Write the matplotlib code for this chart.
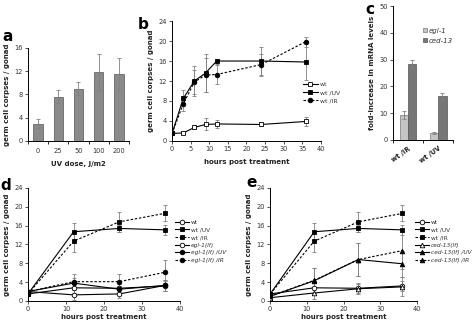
import matplotlib
matplotlib.use("Agg")
from matplotlib import pyplot as plt
from matplotlib.ticker import FixedLocator
import numpy as np

plt.rcParams['font.family'] = ['DejaVu Sans']
plt.rcParams['font.size'] = 5
plt.rcParams['axes.linewidth'] = 0.7

# panel a: germ cell corpses vs UV dose
dose_labels = ['0', '25', '50', '100', '200']
dose_corpses = [3.0, 7.6, 9.0, 11.8, 11.5]
dose_err = [0.7, 1.1, 1.1, 3.2, 2.8]

# panel b: time course after UV / IR
b_hours = [0, 3, 6, 9, 12, 24, 36]
b_wt = [1.5, 1.6, 2.7, 3.3, 3.4, 3.3, 3.9]
b_wt_err = [0.3, 0.3, 0.4, 1.2, 0.8, 0.4, 0.9]
b_wt_uv = [1.5, 8.5, 12.0, 13.6, 16.0, 16.0, 15.8]
b_wt_uv_err = [0.3, 1.6, 3.0, 3.9, 0.5, 2.8, 3.6]
b_wt_ir = [1.5, 7.4, 11.8, 13.2, 13.3, 15.3, 19.9]
b_wt_ir_err = [0.3, 1.5, 2.5, 3.5, 2.0, 2.2, 1.0]

# panel c: qRT-PCR fold increase
c_conditions = ['wt /IR', 'wt /UV']
c_egl1 = [9.3, 2.5]
c_egl1_err = [1.6, 0.3]
c_ced13 = [28.5, 16.3]
c_ced13_err = [1.5, 1.2]

# panels d, e: mutants
de_hours = [0, 12, 24, 36]
wt = [1.5, 2.8, 2.7, 3.2]
wt_err = [0.3, 1.2, 1.0, 1.0]
wt_uv = [1.5, 14.7, 15.4, 15.1]
wt_uv_err = [0.3, 1.8, 0.8, 1.0]
wt_ir = [1.5, 12.7, 16.8, 18.6]
wt_ir_err = [0.3, 2.2, 2.1, 1.7]
egl1 = [2.0, 1.3, 1.5, 3.3]
egl1_err = [0.3, 1.0, 0.8, 1.2]
egl1_uv = [2.0, 3.8, 2.5, 3.3]
egl1_uv_err = [0.3, 1.0, 0.6, 1.2]
egl1_ir = [2.0, 4.1, 4.1, 6.1]
egl1_ir_err = [0.3, 1.6, 1.7, 2.5]
ced13 = [0.7, 1.7, 2.6, 3.0]
ced13_err = [0.3, 1.2, 1.2, 2.0]
ced13_uv = [1.0, 4.3, 8.8, 7.9]
ced13_uv_err = [0.3, 2.6, 3.5, 2.8]
ced13_ir = [1.0, 4.4, 8.8, 10.7]
ced13_ir_err = [0.3, 2.6, 3.5, 4.0]

DOT = (0, (2.2, 1.6))
ERR = dict(ecolor='#808080', elinewidth=0.6, capsize=1.4, capthick=0.6)
LABEL = dict(fontsize=5, fontweight='bold', color='#222222')
LETTER = dict(fontsize=11, fontweight='bold')


def style(ax):
    for s in ('top', 'right'):
        ax.spines[s].set_visible(False)
    ax.tick_params(direction='out', length=2.2, width=0.6, pad=1.5,
                   labelsize=4.8, colors='#333333')


def series(ax, x, y, err, marker, filled, ls, label, ms=3.3):
    ax.errorbar(x, y, yerr=err, fmt='none', zorder=2, **ERR)
    ax.plot(x, y, color='black', lw=0.8, ls=ls, marker=marker, ms=ms,
            mfc='black' if filled else 'white', mec='black', mew=0.6,
            label=label, zorder=3)


def time_axes(ax, xstep):
    style(ax)
    ax.set_xlim(0, 40)
    ax.set_ylim(0, 24)
    ax.set_xticks(np.arange(0, 41, xstep))
    ax.set_yticks(np.arange(0, 25, 4))
    ax.set_ylabel('germ cell corpses / gonad', labelpad=3, **LABEL)


def small_legend(ax, anchor, italic_from=None, fontsize=4.2):
    leg = ax.legend(loc='upper left', bbox_to_anchor=anchor, frameon=False,
                    fontsize=fontsize, handlelength=2.4, handletextpad=0.3,
                    labelspacing=0.45, borderaxespad=0, borderpad=0)
    if italic_from is not None:
        for t in leg.get_texts()[italic_from:]:
            t.set_fontstyle('italic')
    for t in leg.get_texts():
        t.set_color('#333333')
    return leg


fig = plt.figure(figsize=(4.74, 3.24), dpi=100)

# ---- a
ax = fig.add_axes([0.059, 0.565, 0.213, 0.287])
style(ax)
xpos = np.arange(len(dose_labels))
ax.bar(xpos, dose_corpses, width=0.47, color='#8a8a8a', edgecolor='#555555', lw=0.5)
ax.errorbar(xpos, dose_corpses, yerr=dose_err, fmt='none', **ERR)
ax.set_xlim(-0.5, len(dose_labels) - 0.5)
ax.set_ylim(0, 16)
ax.set_yticks(np.arange(0, 17, 4))
ax.set_xticks(xpos)
ax.set_xticklabels(dose_labels)
ax.tick_params(axis='x', length=0, pad=5)
ax.xaxis.set_minor_locator(FixedLocator(np.arange(-0.5, len(dose_labels), 1)))
ax.tick_params(axis='x', which='minor', length=2.2, width=0.6, direction='out')
ax.set_ylabel('germ cell corpses / gonad', labelpad=3, **LABEL)
ax.set_xlabel('UV dose, J/m2', labelpad=5, **LABEL)
fig.text(0.004, 0.872, 'a', **LETTER)

# ---- b
ax = fig.add_axes([0.363, 0.565, 0.314, 0.37])
time_axes(ax, 5)
ax.set_xlabel('hours post treatment', labelpad=5, **LABEL)
series(ax, b_hours, b_wt, b_wt_err, 's', False, '-', 'wt')
series(ax, b_hours, b_wt_uv, b_wt_uv_err, 's', True, '-', 'wt /UV')
series(ax, b_hours, b_wt_ir, b_wt_ir_err, 'o', True, DOT, 'wt /IR')
small_legend(ax, (0.88, 0.49), fontsize=4.4)
fig.text(0.291, 0.912, 'b', **LETTER)

# ---- c
ax = fig.add_axes([0.829, 0.568, 0.127, 0.413])
style(ax)
cpos = np.arange(len(c_conditions)) + 0.5
bw = 0.28
ax.bar(cpos - bw / 2, c_egl1, width=bw, color='#c4c4c4', edgecolor='#777777', lw=0.5, label='egl-1')
ax.bar(cpos + bw / 2, c_ced13, width=bw, color='#777777', edgecolor='#555555', lw=0.5, label='ced-13')
ax.errorbar(cpos - bw / 2, c_egl1, yerr=c_egl1_err, fmt='none', **ERR)
ax.errorbar(cpos + bw / 2, c_ced13, yerr=c_ced13_err, fmt='none', **ERR)
ax.set_xlim(0, len(c_conditions))
ax.set_ylim(0, 50)
ax.set_yticks(np.arange(0, 51, 10))
ax.set_xticks(cpos)
ax.set_xticklabels(c_conditions, rotation=35, ha='right', fontweight='bold',
                   rotation_mode='anchor', color='#222222')
ax.tick_params(axis='x', length=0, pad=4)
ax.xaxis.set_minor_locator(FixedLocator(np.arange(0, len(c_conditions) + 1)))
ax.tick_params(axis='x', which='minor', length=2.2, width=0.6, direction='out')
ax.set_ylabel('fold-increase in mRNA levels', labelpad=3, **LABEL)
leg = ax.legend(loc='upper left', bbox_to_anchor=(0.5, 0.84), frameon=False, fontsize=5,
                handlelength=0.6, handleheight=0.6, handletextpad=0.2, labelspacing=0.6,
                borderaxespad=0, borderpad=0)
for t in leg.get_texts():
    t.set_fontstyle('italic')
    t.set_color('#333333')
fig.text(0.771, 0.958, 'c', **LETTER)

# ---- d
ax = fig.add_axes([0.059, 0.071, 0.321, 0.349])
time_axes(ax, 10)
ax.set_xlabel('hours post treatment', labelpad=1, **LABEL)
series(ax, de_hours, wt, wt_err, 'o', False, '-', 'wt')
series(ax, de_hours, wt_uv, wt_uv_err, 's', True, '-', 'wt /UV')
series(ax, de_hours, wt_ir, wt_ir_err, 's', True, DOT, 'wt /IR')
series(ax, de_hours, egl1, egl1_err, 'o', False, '-', 'egl-1(lf)')
series(ax, de_hours, egl1_uv, egl1_uv_err, 'o', True, '-', 'egl-1(lf) /UV')
series(ax, de_hours, egl1_ir, egl1_ir_err, 'o', True, DOT, 'egl-1(lf) /IR')
small_legend(ax, (0.967, 0.72), italic_from=3)
fig.text(0.0, 0.415, 'd', **LETTER)

# ---- e
ax = fig.add_axes([0.570, 0.071, 0.310, 0.349])
time_axes(ax, 10)
ax.set_xlabel('hours post treatment', labelpad=1, **LABEL)
series(ax, de_hours, wt, wt_err, 'o', False, '-', 'wt')
series(ax, de_hours, wt_uv, wt_uv_err, 's', True, '-', 'wt /UV')
series(ax, de_hours, wt_ir, wt_ir_err, 's', True, DOT, 'wt /IR')
series(ax, de_hours, ced13, ced13_err, '^', False, '-', 'ced-13(lf)')
series(ax, de_hours, ced13_uv, ced13_uv_err, '^', True, '-', 'ced-13(lf) /UV')
series(ax, de_hours, ced13_ir, ced13_ir_err, '^', True, DOT, 'ced-13(lf) /IR')
small_legend(ax, (0.986, 0.72), italic_from=3)
fig.text(0.52, 0.422, 'e', **LETTER)

fig.savefig('out.png', dpi=100)
